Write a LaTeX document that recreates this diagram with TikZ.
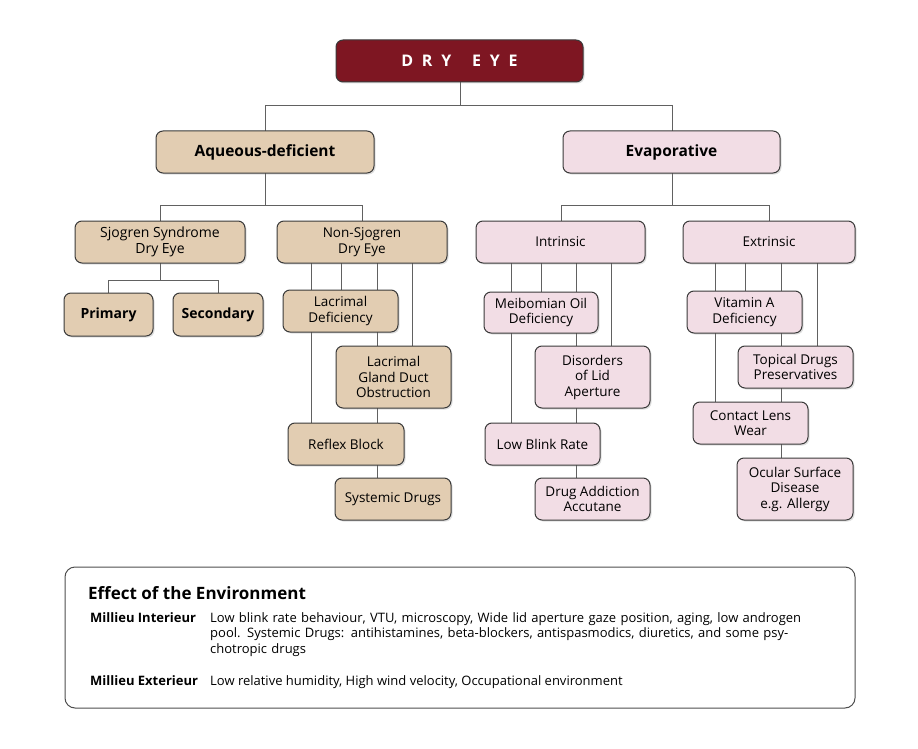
\documentclass[tikz,border=0pt]{standalone}
\usepackage{fontspec}
\setmainfont{Open Sans}
\usetikzlibrary{shadows}
\definecolor{tanc}{HTML}{E2CDB2}
\definecolor{pinkc}{HTML}{F2DDE5}
\definecolor{redc}{HTML}{7E1622}
\definecolor{edgec}{HTML}{3A3A3A}
\tikzset{
 base/.style={draw=edgec,line width=1pt,rounded corners=7pt,align=center,inner sep=0pt,font=\fontsize{13.5}{15.5}\selectfont,drop shadow={shadow xshift=1.5pt,shadow yshift=-1.5pt,opacity=0.25}},
 tanbox/.style={base,fill=tanc},
 pinkbox/.style={base,fill=pinkc},
 conn/.style={draw=edgec!80,line width=0.8pt},
}
\newcommand{\bx}[7]{\node[#6,minimum width={(#4-#2)*1pt},minimum height={(#5-#3)*1pt}] (#1) at ({(#2+#4)/2*1pt},{-(#3+#5)/2*1pt}) {#7};}
\begin{document}
\begin{tikzpicture}[x=1pt,y=1pt]
\useasboundingbox (0,0) rectangle (918,-749);
\coordinate (b1) at (265,-105); \coordinate (b2) at (672,-105); \coordinate (bt) at (460,-105);
\coordinate (a1) at (160,-205); \coordinate (a2) at (362,-205); \coordinate (ac) at (265,-205);
\coordinate (e1) at (561,-205); \coordinate (e2) at (769,-205); \coordinate (ec) at (672,-205);
\coordinate (s1) at (108,-280); \coordinate (s2) at (218,-280); \coordinate (sc) at (160,-280);
\draw[conn] (460,-82) -- (bt); \draw[conn] (b1) -- (b2);
\draw[conn] (b1) -- (265,-131); \draw[conn] (b2) -- (672,-131);
\draw[conn] (265,-173) -- (ac); \draw[conn] (a1) -- (a2); \draw[conn] (a1) -- (160,-221); \draw[conn] (a2) -- (362,-221);
\draw[conn] (672,-173) -- (ec); \draw[conn] (e1) -- (e2); \draw[conn] (e1) -- (561,-221); \draw[conn] (e2) -- (769,-221);
\draw[conn] (160,-263) -- (sc); \draw[conn] (s1) -- (s2); \draw[conn] (s1) -- (108,-293); \draw[conn] (s2) -- (218,-293);
\foreach \x/\y in {311/423,341/290,377/478,412/346, 511/423,541/292,576/478,611/346, 715/402,745/291,781/458,817/346}
  \draw[conn] (\x,-263) -- (\x,-\y);
\bx{dry}{336}{40}{583}{82}{base,fill=redc,text=white,font=\bfseries\fontsize{16}{18}\selectfont}{D\hspace{0.55em}R\hspace{0.55em}Y\hspace{1.3em}E\hspace{0.55em}Y\hspace{0.55em}E}
\bx{aq}{156}{131}{374}{173}{tanbox,font=\bfseries\fontsize{15.5}{18}\selectfont}{Aqueous-deficient}
\bx{ev}{563}{131}{780}{173}{pinkbox,font=\bfseries\fontsize{15.5}{18}\selectfont}{Evaporative}
\bx{sj}{75}{221}{245}{263}{tanbox,font=\fontsize{14}{16}\selectfont}{Sjogren Syndrome\\Dry Eye}
\bx{ns}{277}{221}{447}{263}{tanbox}{Non-Sjogren\\Dry Eye}
\bx{pr}{64}{293}{153}{336}{tanbox,font=\bfseries\fontsize{14}{16}\selectfont}{Primary}
\bx{se}{173}{293}{263}{336}{tanbox,font=\bfseries\fontsize{14}{16}\selectfont}{Secondary}
\bx{ld}{283}{290}{398}{332}{tanbox}{Lacrimal\\Deficiency}
\bx{lg}{336}{346}{451}{408}{tanbox}{Lacrimal\\Gland Duct\\Obstruction}
\bx{rb}{288}{423}{404}{465}{tanbox}{Reflex Block}
\bx{sd}{335}{478}{451}{520}{tanbox}{Systemic Drugs}
\bx{in}{476}{221}{645}{263}{pinkbox}{Intrinsic}
\bx{mo}{484}{292}{598}{333}{pinkbox}{Meibomian Oil\\Deficiency}
\bx{dl}{535}{346}{650}{408}{pinkbox}{Disorders\\of Lid\\Aperture}
\bx{lb}{485}{423}{600}{465}{pinkbox}{Low Blink Rate}
\bx{da}{535}{478}{650}{520}{pinkbox}{Drug Addiction\\Accutane}
\bx{ex}{683}{221}{855}{263}{pinkbox}{Extrinsic}
\bx{va}{687}{291}{802}{333}{pinkbox}{Vitamin A\\Deficiency}
\bx{td}{738}{346}{853}{388}{pinkbox}{Topical Drugs\\Preservatives}
\bx{cl}{693}{402}{808}{444}{pinkbox}{Contact Lens\\Wear}
\bx{os}{737}{458}{853}{520}{pinkbox}{Ocular Surface\\Disease\\e.g. Allergy}
\node[draw=edgec!90,line width=1pt,rounded corners=10pt,fill=white,minimum width=790pt,minimum height=141pt,inner sep=0pt] (env) at (460,-637.5) {};
\node[anchor=west,font=\bfseries\fontsize{17}{19}\selectfont,inner sep=0pt] (envt) at (88,-593) {Effect of the Environment};
\node[anchor=north west,font=\bfseries\fontsize{13}{15.5}\selectfont,inner sep=0pt] (mi) at (90,-612) {Millieu Interieur};
\node[anchor=north west,font=\fontsize{13}{15.5}\selectfont,inner sep=0pt,text width=620pt,align=left] (mit) at (210,-612) {\hyphenpenalty=10000 Low blink rate behaviour, VTU, microscopy, Wide lid aperture gaze position, aging, low androgen pool. Systemic Drugs: antihistamines, beta-blockers, antispasmodics, diuretics, and some psychotropic drugs};
\node[anchor=north west,font=\bfseries\fontsize{13}{15.5}\selectfont,inner sep=0pt] (me) at (90,-675) {Millieu Exterieur};
\node[anchor=north west,font=\fontsize{13}{15.5}\selectfont,inner sep=0pt] (met) at (210,-675) {Low relative humidity, High wind velocity, Occupational environment};
\end{tikzpicture}
\end{document}
